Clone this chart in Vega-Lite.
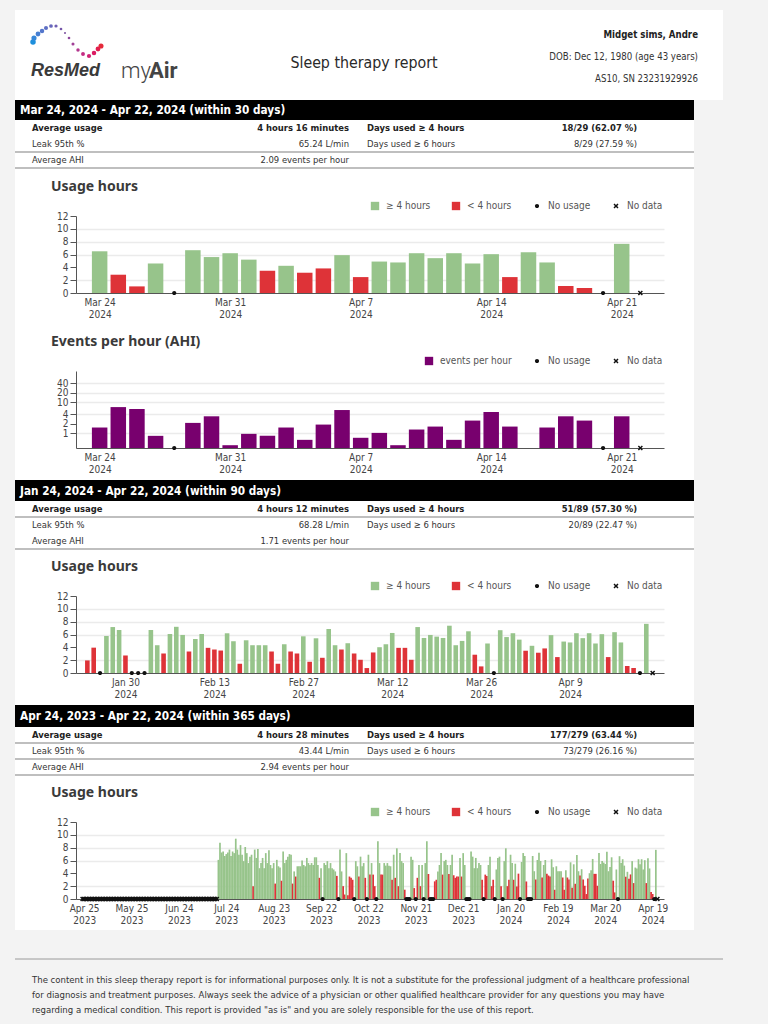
{
  "$schema": "https://vega.github.io/schema/vega-lite/v6.json",
  "background": "#f3f3f3",
  "padding": {"left": 14, "top": 10, "right": 46, "bottom": 0},
  "spacing": 0,
  "resolve": {"scale": {"color": "independent", "shape": "independent", "size": "independent"}, "legend": {"color": "independent", "shape": "independent", "size": "independent"}},
  "config": {
    "font": "DejaVu Sans Condensed, Liberation Sans Narrow, Noto Sans, sans-serif",
    "view": {"stroke": null},
    "axis": {"labelFontSize": 10, "labelColor": "#444", "domainColor": "#555", "tickColor": "#555", "domainWidth": 1},
    "legend": {"orient": "top-right", "direction": "horizontal", "offset": 31, "padding": 0, "labelFontSize": 10, "labelColor": "#555", "symbolSize": 70, "symbolStrokeWidth": 0, "labelOffset": 6, "columnPadding": 20, "symbolOpacity": 1},
    "title": {"anchor": "start", "frame": "group", "offset": -24, "dx": 36, "baseline": "middle", "fontSize": 14, "fontWeight": "bold", "color": "#3a3a3a", "font": "Noto Sans"},
    "text": {"color": "#333"}
  },
  "datasets": {
    "header": [
      {"part": "brand", "slot": 0, "line": 4, "text": "ResMed"},
      {"part": "my", "slot": 1, "line": 4, "text": "my"},
      {"part": "air", "slot": 2, "line": 4, "text": "Air"},
      {"part": "title", "slot": 3, "line": 3, "text": "Sleep therapy report"},
      {"part": "name", "slot": 4, "line": 1, "text": "Midget sims, Andre"},
      {"part": "info", "slot": 4, "line": 2, "text": "DOB: Dec 12, 1980 (age 43 years)"},
      {"part": "info", "slot": 4, "line": 5, "text": "AS10, SN 23231929926"}
    ],
    "logo": [
      {"n": 1, "lx": 0, "ly": 16}, {"n": 2, "lx": 1, "ly": 12}, {"n": 3, "lx": 5, "ly": 8},
      {"n": 4, "lx": 9, "ly": 5}, {"n": 5, "lx": 13, "ly": 2}, {"n": 6, "lx": 18, "ly": 0},
      {"n": 7, "lx": 23, "ly": 0}, {"n": 8, "lx": 28, "ly": 3}, {"n": 9, "lx": 32, "ly": 7},
      {"n": 10, "lx": 36, "ly": 12}, {"n": 11, "lx": 40, "ly": 18}, {"n": 12, "lx": 45, "ly": 24},
      {"n": 13, "lx": 50, "ly": 28}, {"n": 14, "lx": 56, "ly": 30}, {"n": 15, "lx": 61, "ly": 27},
      {"n": 16, "lx": 65, "ly": 23}, {"n": 17, "lx": 68, "ly": 20}
    ],
    "periods": [
      {"period": 30, "text": "Mar 24, 2024 - Apr 22, 2024 (within 30 days)"},
      {"period": 90, "text": "Jan 24, 2024 - Apr 22, 2024 (within 90 days)"},
      {"period": 365, "text": "Apr 24, 2023 - Apr 22, 2024 (within 365 days)"}
    ],
    "tables": [
      {"table": 1, "row": 1, "col": 0, "text": "Average usage"},
      {"table": 1, "row": 1, "col": 1, "text": "4 hours 16 minutes"},
      {"table": 1, "row": 1, "col": 2, "text": "Days used ≥ 4 hours"},
      {"table": 1, "row": 1, "col": 3, "text": "18/29 (62.07 %)"},
      {"table": 1, "row": 2, "col": 0, "text": "Leak 95th %"},
      {"table": 1, "row": 2, "col": 1, "text": "65.24 L/min"},
      {"table": 1, "row": 2, "col": 2, "text": "Days used ≥ 6 hours"},
      {"table": 1, "row": 2, "col": 3, "text": "8/29 (27.59 %)"},
      {"table": 1, "row": 3, "col": 0, "text": "Average AHI"},
      {"table": 1, "row": 3, "col": 1, "text": "2.09 events per hour"},
      {"table": 2, "row": 1, "col": 0, "text": "Average usage"},
      {"table": 2, "row": 1, "col": 1, "text": "4 hours 12 minutes"},
      {"table": 2, "row": 1, "col": 2, "text": "Days used ≥ 4 hours"},
      {"table": 2, "row": 1, "col": 3, "text": "51/89 (57.30 %)"},
      {"table": 2, "row": 2, "col": 0, "text": "Leak 95th %"},
      {"table": 2, "row": 2, "col": 1, "text": "68.28 L/min"},
      {"table": 2, "row": 2, "col": 2, "text": "Days used ≥ 6 hours"},
      {"table": 2, "row": 2, "col": 3, "text": "20/89 (22.47 %)"},
      {"table": 2, "row": 3, "col": 0, "text": "Average AHI"},
      {"table": 2, "row": 3, "col": 1, "text": "1.71 events per hour"},
      {"table": 3, "row": 1, "col": 0, "text": "Average usage"},
      {"table": 3, "row": 1, "col": 1, "text": "4 hours 28 minutes"},
      {"table": 3, "row": 1, "col": 2, "text": "Days used ≥ 4 hours"},
      {"table": 3, "row": 1, "col": 3, "text": "177/279 (63.44 %)"},
      {"table": 3, "row": 2, "col": 0, "text": "Leak 95th %"},
      {"table": 3, "row": 2, "col": 1, "text": "43.44 L/min"},
      {"table": 3, "row": 2, "col": 2, "text": "Days used ≥ 6 hours"},
      {"table": 3, "row": 2, "col": 3, "text": "73/279 (26.16 %)"},
      {"table": 3, "row": 3, "col": 0, "text": "Average AHI"},
      {"table": 3, "row": 3, "col": 1, "text": "2.94 events per hour"}
    ],
    "tableLines": [
      {"table": 1, "between": 2.5}, {"table": 1, "between": 3.5},
      {"table": 2, "between": 1.5}, {"table": 2, "between": 3.5},
      {"table": 3, "between": 1.5}, {"table": 3, "between": 2.5}, {"table": 3, "between": 3.5}
    ],
    "footer": [
      {"line": 1, "text": "The content in this sleep therapy report is for informational purposes only. It is not a substitute for the professional judgment of a healthcare professional"},
      {"line": 2, "text": "for diagnosis and treatment purposes. Always seek the advice of a physician or other qualified healthcare provider for any questions you may have"},
      {"line": 3, "text": "regarding a medical condition. This report is provided \"as is\" and you are solely responsible for the use of this report."}
    ],
    "days": [
      {"date":"2023-04-24","hours":0,"status":"No data"},{"date":"2023-04-25","hours":0,"status":"No data"},{"date":"2023-04-26","hours":0,"status":"No data"},{"date":"2023-04-27","hours":0,"status":"No data"},{"date":"2023-04-28","hours":0,"status":"No data"},{"date":"2023-04-29","hours":0,"status":"No data"},{"date":"2023-04-30","hours":0,"status":"No data"},
      {"date":"2023-05-01","hours":0,"status":"No data"},{"date":"2023-05-02","hours":0,"status":"No data"},{"date":"2023-05-03","hours":0,"status":"No data"},{"date":"2023-05-04","hours":0,"status":"No data"},{"date":"2023-05-05","hours":0,"status":"No data"},{"date":"2023-05-06","hours":0,"status":"No data"},{"date":"2023-05-07","hours":0,"status":"No data"},{"date":"2023-05-08","hours":0,"status":"No data"},{"date":"2023-05-09","hours":0,"status":"No data"},{"date":"2023-05-10","hours":0,"status":"No data"},{"date":"2023-05-11","hours":0,"status":"No data"},{"date":"2023-05-12","hours":0,"status":"No data"},{"date":"2023-05-13","hours":0,"status":"No data"},{"date":"2023-05-14","hours":0,"status":"No data"},{"date":"2023-05-15","hours":0,"status":"No data"},{"date":"2023-05-16","hours":0,"status":"No data"},{"date":"2023-05-17","hours":0,"status":"No data"},{"date":"2023-05-18","hours":0,"status":"No data"},{"date":"2023-05-19","hours":0,"status":"No data"},{"date":"2023-05-20","hours":0,"status":"No data"},{"date":"2023-05-21","hours":0,"status":"No data"},{"date":"2023-05-22","hours":0,"status":"No data"},{"date":"2023-05-23","hours":0,"status":"No data"},{"date":"2023-05-24","hours":0,"status":"No data"},{"date":"2023-05-25","hours":0,"status":"No data"},{"date":"2023-05-26","hours":0,"status":"No data"},{"date":"2023-05-27","hours":0,"status":"No data"},{"date":"2023-05-28","hours":0,"status":"No data"},{"date":"2023-05-29","hours":0,"status":"No data"},{"date":"2023-05-30","hours":0,"status":"No data"},{"date":"2023-05-31","hours":0,"status":"No data"},
      {"date":"2023-06-01","hours":0,"status":"No data"},{"date":"2023-06-02","hours":0,"status":"No data"},{"date":"2023-06-03","hours":0,"status":"No data"},{"date":"2023-06-04","hours":0,"status":"No data"},{"date":"2023-06-05","hours":0,"status":"No data"},{"date":"2023-06-06","hours":0,"status":"No data"},{"date":"2023-06-07","hours":0,"status":"No data"},{"date":"2023-06-08","hours":0,"status":"No data"},{"date":"2023-06-09","hours":0,"status":"No data"},{"date":"2023-06-10","hours":0,"status":"No data"},{"date":"2023-06-11","hours":0,"status":"No data"},{"date":"2023-06-12","hours":0,"status":"No data"},{"date":"2023-06-13","hours":0,"status":"No data"},{"date":"2023-06-14","hours":0,"status":"No data"},{"date":"2023-06-15","hours":0,"status":"No data"},{"date":"2023-06-16","hours":0,"status":"No data"},{"date":"2023-06-17","hours":0,"status":"No data"},{"date":"2023-06-18","hours":0,"status":"No data"},{"date":"2023-06-19","hours":0,"status":"No data"},{"date":"2023-06-20","hours":0,"status":"No data"},{"date":"2023-06-21","hours":0,"status":"No data"},{"date":"2023-06-22","hours":0,"status":"No data"},{"date":"2023-06-23","hours":0,"status":"No data"},{"date":"2023-06-24","hours":0,"status":"No data"},{"date":"2023-06-25","hours":0,"status":"No data"},{"date":"2023-06-26","hours":0,"status":"No data"},{"date":"2023-06-27","hours":0,"status":"No data"},{"date":"2023-06-28","hours":0,"status":"No data"},{"date":"2023-06-29","hours":0,"status":"No data"},{"date":"2023-06-30","hours":0,"status":"No data"},
      {"date":"2023-07-01","hours":0,"status":"No data"},{"date":"2023-07-02","hours":0,"status":"No data"},{"date":"2023-07-03","hours":0,"status":"No data"},{"date":"2023-07-04","hours":0,"status":"No data"},{"date":"2023-07-05","hours":0,"status":"No data"},{"date":"2023-07-06","hours":0,"status":"No data"},{"date":"2023-07-07","hours":0,"status":"No data"},{"date":"2023-07-08","hours":0,"status":"No data"},{"date":"2023-07-09","hours":0,"status":"No data"},{"date":"2023-07-10","hours":0,"status":"No data"},{"date":"2023-07-11","hours":0,"status":"No data"},{"date":"2023-07-12","hours":0,"status":"No data"},{"date":"2023-07-13","hours":0,"status":"No data"},{"date":"2023-07-14","hours":0,"status":"No data"},{"date":"2023-07-15","hours":0,"status":"No data"},{"date":"2023-07-16","hours":0,"status":"No data"},{"date":"2023-07-17","hours":0,"status":"No data"},{"date":"2023-07-18","hours":0,"status":"No data"},
      {"date":"2023-07-19","hours":6.1,"status":"≥ 4 hours"},{"date":"2023-07-20","hours":8.75,"status":"≥ 4 hours"},{"date":"2023-07-21","hours":7.25,"status":"≥ 4 hours"},{"date":"2023-07-22","hours":7.4,"status":"≥ 4 hours"},{"date":"2023-07-23","hours":6.7,"status":"≥ 4 hours"},{"date":"2023-07-24","hours":7.0,"status":"≥ 4 hours"},{"date":"2023-07-25","hours":7.25,"status":"≥ 4 hours"},{"date":"2023-07-26","hours":7.7,"status":"≥ 4 hours"},{"date":"2023-07-27","hours":6.7,"status":"≥ 4 hours"},{"date":"2023-07-28","hours":7.4,"status":"≥ 4 hours"},{"date":"2023-07-29","hours":7.15,"status":"≥ 4 hours"},{"date":"2023-07-30","hours":9.4,"status":"≥ 4 hours"},{"date":"2023-07-31","hours":7.7,"status":"≥ 4 hours"},
      {"date":"2023-08-01","hours":6.9,"status":"≥ 4 hours"},{"date":"2023-08-02","hours":8.4,"status":"≥ 4 hours"},{"date":"2023-08-03","hours":6.9,"status":"≥ 4 hours"},{"date":"2023-08-04","hours":5.9,"status":"≥ 4 hours"},{"date":"2023-08-05","hours":8.1,"status":"≥ 4 hours"},{"date":"2023-08-06","hours":7.15,"status":"≥ 4 hours"},{"date":"2023-08-07","hours":5.6,"status":"≥ 4 hours"},{"date":"2023-08-08","hours":6.6,"status":"≥ 4 hours"},{"date":"2023-08-09","hours":6.9,"status":"≥ 4 hours"},{"date":"2023-08-10","hours":2.0,"status":"< 4 hours"},{"date":"2023-08-11","hours":7.7,"status":"≥ 4 hours"},{"date":"2023-08-12","hours":6.4,"status":"≥ 4 hours"},{"date":"2023-08-13","hours":7.8,"status":"≥ 4 hours"},{"date":"2023-08-14","hours":4.8,"status":"≥ 4 hours"},{"date":"2023-08-15","hours":5.6,"status":"≥ 4 hours"},{"date":"2023-08-16","hours":6.4,"status":"≥ 4 hours"},{"date":"2023-08-17","hours":4.8,"status":"≥ 4 hours"},{"date":"2023-08-18","hours":7.15,"status":"≥ 4 hours"},{"date":"2023-08-19","hours":5.6,"status":"≥ 4 hours"},{"date":"2023-08-20","hours":7.6,"status":"≥ 4 hours"},{"date":"2023-08-21","hours":5.3,"status":"≥ 4 hours"},{"date":"2023-08-22","hours":4.8,"status":"≥ 4 hours"},{"date":"2023-08-23","hours":5.6,"status":"≥ 4 hours"},{"date":"2023-08-24","hours":2.4,"status":"< 4 hours"},{"date":"2023-08-25","hours":6.1,"status":"≥ 4 hours"},{"date":"2023-08-26","hours":5.1,"status":"≥ 4 hours"},{"date":"2023-08-27","hours":4.9,"status":"≥ 4 hours"},{"date":"2023-08-28","hours":2.85,"status":"< 4 hours"},{"date":"2023-08-29","hours":7.4,"status":"≥ 4 hours"},{"date":"2023-08-30","hours":5.6,"status":"≥ 4 hours"},{"date":"2023-08-31","hours":6.1,"status":"≥ 4 hours"},
      {"date":"2023-09-01","hours":6.6,"status":"≥ 4 hours"},{"date":"2023-09-02","hours":7.0,"status":"≥ 4 hours"},{"date":"2023-09-03","hours":6.9,"status":"≥ 4 hours"},{"date":"2023-09-04","hours":2.4,"status":"< 4 hours"},{"date":"2023-09-05","hours":4.3,"status":"≥ 4 hours"},{"date":"2023-09-06","hours":3.5,"status":"< 4 hours"},{"date":"2023-09-07","hours":5.1,"status":"≥ 4 hours"},{"date":"2023-09-08","hours":5.1,"status":"≥ 4 hours"},{"date":"2023-09-09","hours":5.1,"status":"≥ 4 hours"},{"date":"2023-09-10","hours":6.0,"status":"≥ 4 hours"},{"date":"2023-09-11","hours":5.3,"status":"≥ 4 hours"},{"date":"2023-09-12","hours":5.1,"status":"≥ 4 hours"},{"date":"2023-09-13","hours":6.4,"status":"≥ 4 hours"},{"date":"2023-09-14","hours":5.6,"status":"≥ 4 hours"},{"date":"2023-09-15","hours":5.3,"status":"≥ 4 hours"},{"date":"2023-09-16","hours":5.6,"status":"≥ 4 hours"},{"date":"2023-09-17","hours":5.3,"status":"≥ 4 hours"},{"date":"2023-09-18","hours":6.5,"status":"≥ 4 hours"},{"date":"2023-09-19","hours":6.5,"status":"≥ 4 hours"},{"date":"2023-09-20","hours":5.3,"status":"≥ 4 hours"},{"date":"2023-09-21","hours":3.3,"status":"< 4 hours"},{"date":"2023-09-22","hours":4.8,"status":"≥ 4 hours"},{"date":"2023-09-23","hours":0,"status":"No usage"},{"date":"2023-09-24","hours":5.6,"status":"≥ 4 hours"},{"date":"2023-09-25","hours":5.3,"status":"≥ 4 hours"},{"date":"2023-09-26","hours":5.9,"status":"≥ 4 hours"},{"date":"2023-09-27","hours":4.8,"status":"≥ 4 hours"},{"date":"2023-09-28","hours":5.6,"status":"≥ 4 hours"},{"date":"2023-09-29","hours":4.8,"status":"≥ 4 hours"},{"date":"2023-09-30","hours":4.6,"status":"≥ 4 hours"},
      {"date":"2023-10-01","hours":4.3,"status":"≥ 4 hours"},{"date":"2023-10-02","hours":3.6,"status":"< 4 hours"},{"date":"2023-10-03","hours":0,"status":"No usage"},{"date":"2023-10-04","hours":7.7,"status":"≥ 4 hours"},{"date":"2023-10-05","hours":4.3,"status":"≥ 4 hours"},{"date":"2023-10-06","hours":2.0,"status":"< 4 hours"},{"date":"2023-10-07","hours":0.7,"status":"< 4 hours"},{"date":"2023-10-08","hours":7.15,"status":"≥ 4 hours"},{"date":"2023-10-09","hours":0.6,"status":"< 4 hours"},{"date":"2023-10-10","hours":3.5,"status":"< 4 hours"},{"date":"2023-10-11","hours":3.3,"status":"< 4 hours"},{"date":"2023-10-12","hours":3.0,"status":"< 4 hours"},{"date":"2023-10-13","hours":0,"status":"No usage"},{"date":"2023-10-14","hours":5.9,"status":"≥ 4 hours"},{"date":"2023-10-15","hours":5.1,"status":"≥ 4 hours"},{"date":"2023-10-16","hours":3.5,"status":"< 4 hours"},{"date":"2023-10-17","hours":6.6,"status":"≥ 4 hours"},{"date":"2023-10-18","hours":5.1,"status":"≥ 4 hours"},{"date":"2023-10-19","hours":5.6,"status":"≥ 4 hours"},{"date":"2023-10-20","hours":3.3,"status":"< 4 hours"},{"date":"2023-10-21","hours":0,"status":"No usage"},{"date":"2023-10-22","hours":6.9,"status":"≥ 4 hours"},{"date":"2023-10-23","hours":3.8,"status":"< 4 hours"},{"date":"2023-10-24","hours":5.6,"status":"≥ 4 hours"},{"date":"2023-10-25","hours":3.8,"status":"< 4 hours"},{"date":"2023-10-26","hours":2.0,"status":"< 4 hours"},{"date":"2023-10-27","hours":0,"status":"No usage"},{"date":"2023-10-28","hours":9.0,"status":"≥ 4 hours"},{"date":"2023-10-29","hours":5.6,"status":"≥ 4 hours"},{"date":"2023-10-30","hours":3.8,"status":"< 4 hours"},{"date":"2023-10-31","hours":3.8,"status":"< 4 hours"},
      {"date":"2023-11-01","hours":5.6,"status":"≥ 4 hours"},{"date":"2023-11-02","hours":5.2,"status":"≥ 4 hours"},{"date":"2023-11-03","hours":5.6,"status":"≥ 4 hours"},{"date":"2023-11-04","hours":5.2,"status":"≥ 4 hours"},{"date":"2023-11-05","hours":5.1,"status":"≥ 4 hours"},{"date":"2023-11-06","hours":3.0,"status":"< 4 hours"},{"date":"2023-11-07","hours":6.9,"status":"≥ 4 hours"},{"date":"2023-11-08","hours":3.3,"status":"< 4 hours"},{"date":"2023-11-09","hours":7.9,"status":"≥ 4 hours"},{"date":"2023-11-10","hours":2.0,"status":"< 4 hours"},{"date":"2023-11-11","hours":7.15,"status":"≥ 4 hours"},{"date":"2023-11-12","hours":5.9,"status":"≥ 4 hours"},{"date":"2023-11-13","hours":5.6,"status":"≥ 4 hours"},{"date":"2023-11-14","hours":1.45,"status":"< 4 hours"},{"date":"2023-11-15","hours":0,"status":"No usage"},{"date":"2023-11-16","hours":0,"status":"No usage"},{"date":"2023-11-17","hours":0,"status":"No usage"},{"date":"2023-11-18","hours":6.6,"status":"≥ 4 hours"},{"date":"2023-11-19","hours":6.1,"status":"≥ 4 hours"},{"date":"2023-11-20","hours":1.7,"status":"< 4 hours"},{"date":"2023-11-21","hours":0,"status":"No usage"},{"date":"2023-11-22","hours":3.3,"status":"< 4 hours"},{"date":"2023-11-23","hours":5.3,"status":"≥ 4 hours"},{"date":"2023-11-24","hours":2.0,"status":"< 4 hours"},{"date":"2023-11-25","hours":5.3,"status":"≥ 4 hours"},{"date":"2023-11-26","hours":0,"status":"No usage"},{"date":"2023-11-27","hours":5.6,"status":"≥ 4 hours"},{"date":"2023-11-28","hours":9.0,"status":"≥ 4 hours"},{"date":"2023-11-29","hours":3.9,"status":"< 4 hours"},{"date":"2023-11-30","hours":0,"status":"No usage"},
      {"date":"2023-12-01","hours":0,"status":"No usage"},{"date":"2023-12-02","hours":0,"status":"No usage"},{"date":"2023-12-03","hours":2.75,"status":"< 4 hours"},{"date":"2023-12-04","hours":3.0,"status":"< 4 hours"},{"date":"2023-12-05","hours":4.3,"status":"≥ 4 hours"},{"date":"2023-12-06","hours":5.3,"status":"≥ 4 hours"},{"date":"2023-12-07","hours":7.15,"status":"≥ 4 hours"},{"date":"2023-12-08","hours":3.8,"status":"< 4 hours"},{"date":"2023-12-09","hours":5.9,"status":"≥ 4 hours"},{"date":"2023-12-10","hours":6.1,"status":"≥ 4 hours"},{"date":"2023-12-11","hours":5.3,"status":"≥ 4 hours"},{"date":"2023-12-12","hours":3.9,"status":"< 4 hours"},{"date":"2023-12-13","hours":5.3,"status":"≥ 4 hours"},{"date":"2023-12-14","hours":6.9,"status":"≥ 4 hours"},{"date":"2023-12-15","hours":3.7,"status":"< 4 hours"},{"date":"2023-12-16","hours":3.3,"status":"< 4 hours"},{"date":"2023-12-17","hours":3.5,"status":"< 4 hours"},{"date":"2023-12-18","hours":3.5,"status":"< 4 hours"},{"date":"2023-12-19","hours":6.4,"status":"≥ 4 hours"},{"date":"2023-12-20","hours":3.5,"status":"< 4 hours"},{"date":"2023-12-21","hours":7.15,"status":"≥ 4 hours"},{"date":"2023-12-22","hours":5.3,"status":"≥ 4 hours"},{"date":"2023-12-23","hours":0,"status":"No usage"},{"date":"2023-12-24","hours":0,"status":"No usage"},{"date":"2023-12-25","hours":0,"status":"No usage"},{"date":"2023-12-26","hours":7.4,"status":"≥ 4 hours"},{"date":"2023-12-27","hours":6.6,"status":"≥ 4 hours"},{"date":"2023-12-28","hours":4.8,"status":"≥ 4 hours"},{"date":"2023-12-29","hours":6.4,"status":"≥ 4 hours"},{"date":"2023-12-30","hours":4.8,"status":"≥ 4 hours"},{"date":"2023-12-31","hours":5.6,"status":"≥ 4 hours"},
      {"date":"2024-01-01","hours":5.3,"status":"≥ 4 hours"},{"date":"2024-01-02","hours":3.0,"status":"< 4 hours"},{"date":"2024-01-03","hours":0,"status":"No usage"},{"date":"2024-01-04","hours":3.8,"status":"< 4 hours"},{"date":"2024-01-05","hours":3.6,"status":"< 4 hours"},{"date":"2024-01-06","hours":5.3,"status":"≥ 4 hours"},{"date":"2024-01-07","hours":6.6,"status":"≥ 4 hours"},{"date":"2024-01-08","hours":2.0,"status":"< 4 hours"},{"date":"2024-01-09","hours":3.0,"status":"< 4 hours"},{"date":"2024-01-10","hours":0,"status":"No usage"},{"date":"2024-01-11","hours":4.6,"status":"≥ 4 hours"},{"date":"2024-01-12","hours":6.4,"status":"≥ 4 hours"},{"date":"2024-01-13","hours":6.6,"status":"≥ 4 hours"},{"date":"2024-01-14","hours":2.0,"status":"< 4 hours"},{"date":"2024-01-15","hours":0,"status":"No usage"},{"date":"2024-01-16","hours":5.9,"status":"≥ 4 hours"},{"date":"2024-01-17","hours":7.9,"status":"≥ 4 hours"},{"date":"2024-01-18","hours":2.0,"status":"< 4 hours"},{"date":"2024-01-19","hours":3.0,"status":"< 4 hours"},{"date":"2024-01-20","hours":6.9,"status":"≥ 4 hours"},{"date":"2024-01-21","hours":5.6,"status":"≥ 4 hours"},{"date":"2024-01-22","hours":3.0,"status":"< 4 hours"},{"date":"2024-01-23","hours":5.5,"status":"≥ 4 hours"},
      {"date":"2024-01-24","hours":1.96,"status":"< 4 hours"},{"date":"2024-01-25","hours":3.95,"status":"< 4 hours"},{"date":"2024-01-26","hours":0,"status":"No usage"},{"date":"2024-01-27","hours":5.77,"status":"≥ 4 hours"},{"date":"2024-01-28","hours":7.16,"status":"≥ 4 hours"},{"date":"2024-01-29","hours":6.7,"status":"≥ 4 hours"},{"date":"2024-01-30","hours":2.73,"status":"< 4 hours"},{"date":"2024-01-31","hours":0,"status":"No usage"},
      {"date":"2024-02-01","hours":0,"status":"No usage"},{"date":"2024-02-02","hours":0,"status":"No usage"},{"date":"2024-02-03","hours":6.7,"status":"≥ 4 hours"},{"date":"2024-02-04","hours":4.33,"status":"≥ 4 hours"},{"date":"2024-02-05","hours":3.04,"status":"< 4 hours"},{"date":"2024-02-06","hours":6.08,"status":"≥ 4 hours"},{"date":"2024-02-07","hours":7.2,"status":"≥ 4 hours"},{"date":"2024-02-08","hours":5.93,"status":"≥ 4 hours"},{"date":"2024-02-09","hours":3.35,"status":"< 4 hours"},{"date":"2024-02-10","hours":5.3,"status":"≥ 4 hours"},{"date":"2024-02-11","hours":6.08,"status":"≥ 4 hours"},{"date":"2024-02-12","hours":3.92,"status":"< 4 hours"},{"date":"2024-02-13","hours":3.66,"status":"< 4 hours"},{"date":"2024-02-14","hours":3.5,"status":"< 4 hours"},{"date":"2024-02-15","hours":6.19,"status":"≥ 4 hours"},{"date":"2024-02-16","hours":4.95,"status":"≥ 4 hours"},{"date":"2024-02-17","hours":1.44,"status":"< 4 hours"},{"date":"2024-02-18","hours":5.1,"status":"≥ 4 hours"},{"date":"2024-02-19","hours":4.33,"status":"≥ 4 hours"},{"date":"2024-02-20","hours":4.33,"status":"≥ 4 hours"},{"date":"2024-02-21","hours":4.33,"status":"≥ 4 hours"},{"date":"2024-02-22","hours":3.35,"status":"< 4 hours"},{"date":"2024-02-23","hours":1.44,"status":"< 4 hours"},{"date":"2024-02-24","hours":4.48,"status":"≥ 4 hours"},{"date":"2024-02-25","hours":3.35,"status":"< 4 hours"},{"date":"2024-02-26","hours":3.04,"status":"< 4 hours"},{"date":"2024-02-27","hours":5.72,"status":"≥ 4 hours"},{"date":"2024-02-28","hours":1.75,"status":"< 4 hours"},{"date":"2024-02-29","hours":5.41,"status":"≥ 4 hours"},
      {"date":"2024-03-01","hours":2.37,"status":"< 4 hours"},{"date":"2024-03-02","hours":6.86,"status":"≥ 4 hours"},{"date":"2024-03-03","hours":4.33,"status":"≥ 4 hours"},{"date":"2024-03-04","hours":3.66,"status":"< 4 hours"},{"date":"2024-03-05","hours":4.64,"status":"≥ 4 hours"},{"date":"2024-03-06","hours":3.04,"status":"< 4 hours"},{"date":"2024-03-07","hours":2.06,"status":"< 4 hours"},{"date":"2024-03-08","hours":0.77,"status":"< 4 hours"},{"date":"2024-03-09","hours":3.2,"status":"< 4 hours"},{"date":"2024-03-10","hours":4.02,"status":"≥ 4 hours"},{"date":"2024-03-11","hours":4.48,"status":"≥ 4 hours"},{"date":"2024-03-12","hours":6.24,"status":"≥ 4 hours"},{"date":"2024-03-13","hours":3.92,"status":"< 4 hours"},{"date":"2024-03-14","hours":3.92,"status":"< 4 hours"},{"date":"2024-03-15","hours":2.06,"status":"< 4 hours"},{"date":"2024-03-16","hours":7.16,"status":"≥ 4 hours"},{"date":"2024-03-17","hours":5.46,"status":"≥ 4 hours"},{"date":"2024-03-18","hours":5.93,"status":"≥ 4 hours"},{"date":"2024-03-19","hours":5.67,"status":"≥ 4 hours"},{"date":"2024-03-20","hours":5.46,"status":"≥ 4 hours"},{"date":"2024-03-21","hours":7.37,"status":"≥ 4 hours"},{"date":"2024-03-22","hours":4.33,"status":"≥ 4 hours"},{"date":"2024-03-23","hours":5.0,"status":"≥ 4 hours"},
      {"date":"2024-03-24","hours":6.5,"status":"≥ 4 hours","ahi":1.52},{"date":"2024-03-25","hours":2.85,"status":"< 4 hours","ahi":6.9},{"date":"2024-03-26","hours":1.03,"status":"< 4 hours","ahi":5.98},{"date":"2024-03-27","hours":4.6,"status":"≥ 4 hours","ahi":0.82},{"date":"2024-03-28","hours":0,"status":"No usage"},{"date":"2024-03-29","hours":6.67,"status":"≥ 4 hours","ahi":2.14},{"date":"2024-03-30","hours":5.6,"status":"≥ 4 hours","ahi":3.49},{"date":"2024-03-31","hours":6.2,"status":"≥ 4 hours","ahi":0.41},
      {"date":"2024-04-01","hours":5.2,"status":"≥ 4 hours","ahi":0.95},{"date":"2024-04-02","hours":3.47,"status":"< 4 hours","ahi":0.82},{"date":"2024-04-03","hours":4.24,"status":"≥ 4 hours","ahi":1.52},{"date":"2024-04-04","hours":3.16,"status":"< 4 hours","ahi":0.61},{"date":"2024-04-05","hours":3.83,"status":"< 4 hours","ahi":1.89},{"date":"2024-04-06","hours":5.9,"status":"≥ 4 hours","ahi":5.55},{"date":"2024-04-07","hours":2.48,"status":"< 4 hours","ahi":0.71},{"date":"2024-04-08","hours":4.9,"status":"≥ 4 hours","ahi":1.02},{"date":"2024-04-09","hours":4.76,"status":"≥ 4 hours","ahi":0.41},{"date":"2024-04-10","hours":6.2,"status":"≥ 4 hours","ahi":1.31},{"date":"2024-04-11","hours":5.43,"status":"≥ 4 hours","ahi":1.63},{"date":"2024-04-12","hours":6.2,"status":"≥ 4 hours","ahi":0.61},{"date":"2024-04-13","hours":4.6,"status":"≥ 4 hours","ahi":2.54},{"date":"2024-04-14","hours":6.05,"status":"≥ 4 hours","ahi":4.8},{"date":"2024-04-15","hours":2.48,"status":"< 4 hours","ahi":1.63},{"date":"2024-04-16","hours":6.36,"status":"≥ 4 hours","ahi":0},{"date":"2024-04-17","hours":4.76,"status":"≥ 4 hours","ahi":1.52},{"date":"2024-04-18","hours":1.09,"status":"< 4 hours","ahi":3.49},{"date":"2024-04-19","hours":0.78,"status":"< 4 hours","ahi":2.54},{"date":"2024-04-20","hours":0,"status":"No usage"},{"date":"2024-04-21","hours":7.66,"status":"≥ 4 hours","ahi":3.49},{"date":"2024-04-22","hours":0,"status":"No data"}
    ]
  },
  "vconcat": [
    {
      "width": 708, "height": 90,
      "view": {"fill": "white", "stroke": null},
      "resolve": {"scale": {"x": "independent", "y": "independent", "color": "independent", "size": "independent"}},
      "layer": [
        {
          "data": {"name": "logo"},
          "mark": {"type": "circle", "opacity": 1},
          "encoding": {
            "x": {"field": "lx", "type": "quantitative", "scale": {"domain": [0, 68], "range": [18, 86], "nice": false, "zero": false}, "axis": null},
            "y": {"field": "ly", "type": "quantitative", "scale": {"domain": [0, 30], "range": [16, 46], "nice": false, "zero": false}, "axis": null},
            "color": {"field": "n", "type": "quantitative", "scale": {"domain": [1, 9, 17], "range": ["#1d8fdc", "#7a4e9e", "#e52a3a"]}, "legend": null},
            "size": {"field": "n", "type": "quantitative", "scale": {"domain": [1, 9, 17], "range": [30, 4, 26]}, "legend": null}
          }
        },
        {
          "data": {"name": "header"},
          "transform": [{"filter": "datum.part == 'brand'"}],
          "mark": {"type": "text", "align": "left", "baseline": "middle", "font": "Liberation Sans", "fontSize": 18, "fontWeight": "bold", "fontStyle": "italic", "color": "#3a3a3a"},
          "encoding": {
            "x": {"field": "slot", "type": "quantitative", "scale": {"domain": [0, 1, 2, 3, 4], "range": [16, 106, 134, 349, 683], "nice": false, "zero": false}, "axis": null},
            "y": {"field": "line", "type": "quantitative", "scale": {"domain": [1, 2, 3, 4, 5], "range": [25, 47, 53, 61, 69], "nice": false, "zero": false}, "axis": null},
            "text": {"field": "text"}
          }
        },
        {
          "data": {"name": "header"},
          "transform": [{"filter": "datum.part == 'my'"}],
          "mark": {"type": "text", "align": "left", "baseline": "middle", "font": "Roboto", "fontSize": 22, "fontWeight": 300, "color": "#444"},
          "encoding": {
            "x": {"field": "slot", "type": "quantitative", "scale": {"domain": [0, 1, 2, 3, 4], "range": [16, 106, 134, 349, 683], "nice": false, "zero": false}, "axis": null},
            "y": {"field": "line", "type": "quantitative", "scale": {"domain": [1, 2, 3, 4, 5], "range": [25, 47, 53, 61, 69], "nice": false, "zero": false}, "axis": null},
            "text": {"field": "text"}
          }
        },
        {
          "data": {"name": "header"},
          "transform": [{"filter": "datum.part == 'air'"}],
          "mark": {"type": "text", "align": "left", "baseline": "middle", "font": "Roboto", "fontSize": 22, "fontWeight": "bold", "color": "#444"},
          "encoding": {
            "x": {"field": "slot", "type": "quantitative", "scale": {"domain": [0, 1, 2, 3, 4], "range": [16, 106, 134, 349, 683], "nice": false, "zero": false}, "axis": null},
            "y": {"field": "line", "type": "quantitative", "scale": {"domain": [1, 2, 3, 4, 5], "range": [25, 47, 53, 61, 69], "nice": false, "zero": false}, "axis": null},
            "text": {"field": "text"}
          }
        },
        {
          "data": {"name": "header"},
          "transform": [{"filter": "datum.part == 'title'"}],
          "mark": {"type": "text", "align": "center", "baseline": "middle", "fontSize": 15.8, "color": "#2a2a2a"},
          "encoding": {
            "x": {"field": "slot", "type": "quantitative", "scale": {"domain": [0, 1, 2, 3, 4], "range": [16, 106, 134, 349, 683], "nice": false, "zero": false}, "axis": null},
            "y": {"field": "line", "type": "quantitative", "scale": {"domain": [1, 2, 3, 4, 5], "range": [25, 47, 53, 61, 69], "nice": false, "zero": false}, "axis": null},
            "text": {"field": "text"}
          }
        },
        {
          "data": {"name": "header"},
          "transform": [{"filter": "datum.part == 'name'"}],
          "mark": {"type": "text", "align": "right", "baseline": "middle", "fontSize": 9.6, "fontWeight": "bold", "color": "#222"},
          "encoding": {
            "x": {"field": "slot", "type": "quantitative", "scale": {"domain": [0, 1, 2, 3, 4], "range": [16, 106, 134, 349, 683], "nice": false, "zero": false}, "axis": null},
            "y": {"field": "line", "type": "quantitative", "scale": {"domain": [1, 2, 3, 4, 5], "range": [25, 47, 53, 61, 69], "nice": false, "zero": false}, "axis": null},
            "text": {"field": "text"}
          }
        },
        {
          "data": {"name": "header"},
          "transform": [{"filter": "datum.part == 'info'"}],
          "mark": {"type": "text", "align": "right", "baseline": "middle", "fontSize": 9.6, "color": "#333"},
          "encoding": {
            "x": {"field": "slot", "type": "quantitative", "scale": {"domain": [0, 1, 2, 3, 4], "range": [16, 106, 134, 349, 683], "nice": false, "zero": false}, "axis": null},
            "y": {"field": "line", "type": "quantitative", "scale": {"domain": [1, 2, 3, 4, 5], "range": [25, 47, 53, 61, 69], "nice": false, "zero": false}, "axis": null},
            "text": {"field": "text"}
          }
        }
      ]
    },
    {
      "width": 679, "height": 20,
      "view": {"fill": "black", "stroke": null},
      "data": {"name": "periods"},
      "transform": [{"filter": "datum.period == 30"}],
      "mark": {"type": "text", "align": "left", "baseline": "middle", "color": "white", "fontWeight": "bold", "fontSize": 11.7},
      "encoding": {
        "x": {"datum": 0, "type": "quantitative", "scale": {"domain": [0, 1], "range": [5, 679]}, "axis": null},
        "text": {"field": "text"}
      }
    },
    {
      "width": 679, "height": 50,
      "view": {"fill": "white", "stroke": null},
      "layer": [
        {
          "data": {"name": "tableLines"},
          "transform": [{"filter": "datum.table == 1"}],
          "mark": {"type": "rule", "color": "#aaa", "strokeWidth": 1.5},
          "encoding": {"y": {"field": "between", "type": "quantitative", "scale": {"domain": [1, 3], "range": [8, 40], "nice": false, "zero": false}, "axis": null}}
        },
        {
          "data": {"name": "tables"},
          "transform": [{"filter": "datum.table == 1 && datum.row == 1 && (datum.col == 0 || datum.col == 2)"}],
          "mark": {"type": "text", "align": "left", "baseline": "middle", "fontSize": 9.4, "fontWeight": "bold", "color": "#222"},
          "encoding": {
            "x": {"field": "col", "type": "quantitative", "scale": {"domain": [0, 1, 2, 3], "range": [17, 334, 352, 622], "nice": false, "zero": false}, "axis": null},
            "y": {"field": "row", "type": "quantitative", "scale": {"domain": [1, 3], "range": [8, 40], "nice": false, "zero": false}, "axis": null},
            "text": {"field": "text"}
          }
        },
        {
          "data": {"name": "tables"},
          "transform": [{"filter": "datum.table == 1 && datum.row == 1 && (datum.col == 1 || datum.col == 3)"}],
          "mark": {"type": "text", "align": "right", "baseline": "middle", "fontSize": 9.4, "fontWeight": "bold", "color": "#222"},
          "encoding": {
            "x": {"field": "col", "type": "quantitative", "scale": {"domain": [0, 1, 2, 3], "range": [17, 334, 352, 622], "nice": false, "zero": false}, "axis": null},
            "y": {"field": "row", "type": "quantitative", "scale": {"domain": [1, 3], "range": [8, 40], "nice": false, "zero": false}, "axis": null},
            "text": {"field": "text"}
          }
        },
        {
          "data": {"name": "tables"},
          "transform": [{"filter": "datum.table == 1 && datum.row > 1 && (datum.col == 0 || datum.col == 2)"}],
          "mark": {"type": "text", "align": "left", "baseline": "middle", "fontSize": 9.4, "color": "#333"},
          "encoding": {
            "x": {"field": "col", "type": "quantitative", "scale": {"domain": [0, 1, 2, 3], "range": [17, 334, 352, 622], "nice": false, "zero": false}, "axis": null},
            "y": {"field": "row", "type": "quantitative", "scale": {"domain": [1, 3], "range": [8, 40], "nice": false, "zero": false}, "axis": null},
            "text": {"field": "text"}
          }
        },
        {
          "data": {"name": "tables"},
          "transform": [{"filter": "datum.table == 1 && datum.row > 1 && (datum.col == 1 || datum.col == 3)"}],
          "mark": {"type": "text", "align": "right", "baseline": "middle", "fontSize": 9.4, "color": "#333"},
          "encoding": {
            "x": {"field": "col", "type": "quantitative", "scale": {"domain": [0, 1, 2, 3], "range": [17, 334, 352, 622], "nice": false, "zero": false}, "axis": null},
            "y": {"field": "row", "type": "quantitative", "scale": {"domain": [1, 3], "range": [8, 40], "nice": false, "zero": false}, "axis": null},
            "text": {"field": "text"}
          }
        }
      ]
    },
    {
      "width": 679, "height": 155,
      "view": {"fill": "white", "stroke": null},
      "title": {"text": "Usage hours"},
      "data": {"name": "days"},
      "transform": [{"filter": "time(datum.date) >= utc(2024, 2, 24)"}],
      "encoding": {
        "x": {"field": "date", "type": "temporal", "title": null,
          "scale": {"type": "utc", "domain": [{"year": 2024, "month": 3, "date": 23, "utc": true}, {"year": 2024, "month": 4, "date": 23, "utc": true}], "range": [61, 649], "nice": false},
          "axis": {"values": [{"year": 2024, "month": 3, "date": 24, "utc": true}, {"year": 2024, "month": 3, "date": 31, "utc": true}, {"year": 2024, "month": 4, "date": 7, "utc": true}, {"year": 2024, "month": 4, "date": 14, "utc": true}, {"year": 2024, "month": 4, "date": 21, "utc": true}],
            "labelExpr": "[utcFormat(datum.value, '%b %-d'), utcFormat(datum.value, '%Y')]", "offset": -32, "ticks": false, "grid": false, "labelPadding": 4, "labelLineHeight": 12, "labelFlush": false, "labelOverlap": false}}
      },
      "layer": [
        {
          "transform": [{"filter": "datum.hours > 0"}],
          "mark": {"type": "bar", "width": 15.5},
          "encoding": {
            "y": {"field": "hours", "type": "quantitative", "title": null,
              "scale": {"domain": [0, 12], "range": [123, 46], "nice": false},
              "axis": {"values": [0, 2, 4, 6, 8, 10, 12], "offset": -61, "tickSize": 6, "labelPadding": 2, "labelOverlap": false, "grid": true, "gridColor": "#ebebeb", "gridWidth": 1.5, "gridOpacity": {"condition": {"test": "datum.value == 0 || datum.value == 4 || datum.value == 12", "value": 0}, "value": 1}}},
            "color": {"field": "status", "type": "nominal", "title": null, "scale": {"domain": ["≥ 4 hours", "< 4 hours", "No usage", "No data"], "range": ["#97c48b", "#de3338", "#111111", "#111111"]}}
          }
        },
        {
          "data": {"values": [{}]},
          "mark": {"type": "rule", "color": "#777", "strokeDash": [3, 2], "strokeWidth": 1},
          "encoding": {
            "x": {"datum": {"year": 2024, "month": 3, "date": 23, "utc": true}, "type": "temporal"},
            "x2": {"datum": {"year": 2024, "month": 4, "date": 23, "utc": true}},
            "y": {"datum": 4, "type": "quantitative", "axis": {"values": [0, 2, 4, 6, 8, 10, 12], "offset": -61, "tickSize": 6, "labelPadding": 2, "labelOverlap": false, "grid": true, "gridColor": "#ebebeb", "gridWidth": 1.5, "gridOpacity": {"condition": {"test": "datum.value == 0 || datum.value == 4 || datum.value == 12", "value": 0}, "value": 1}}}
          }
        },
        {
          "transform": [{"filter": "datum.status == 'No usage' || datum.status == 'No data'"}],
          "mark": {"type": "point", "filled": true, "size": 70, "opacity": 1},
          "encoding": {
            "y": {"datum": 0, "type": "quantitative", "axis": {"values": [0, 2, 4, 6, 8, 10, 12], "offset": -61, "tickSize": 6, "labelPadding": 2, "labelOverlap": false, "grid": true, "gridColor": "#ebebeb", "gridWidth": 1.5, "gridOpacity": {"condition": {"test": "datum.value == 0 || datum.value == 4 || datum.value == 12", "value": 0}, "value": 1}}},
            "color": {"field": "status", "type": "nominal", "title": null, "scale": {"domain": ["≥ 4 hours", "< 4 hours", "No usage", "No data"], "range": ["#97c48b", "#de3338", "#111111", "#111111"]}},
            "shape": {"field": "status", "type": "nominal", "title": null, "scale": {"domain": ["≥ 4 hours", "< 4 hours", "No usage", "No data"], "range": ["square", "square", "M -0.5 0 A 0.5 0.5 0 1 0 0.5 0 A 0.5 0.5 0 1 0 -0.5 0 Z", "M -0.6 -0.35 L -0.35 -0.6 L 0 -0.25 L 0.35 -0.6 L 0.6 -0.35 L 0.25 0 L 0.6 0.35 L 0.35 0.6 L 0 0.25 L -0.35 0.6 L -0.6 0.35 L -0.25 0 Z"]}}
          }
        }
      ]
    },
    {
      "width": 679, "height": 155,
      "view": {"fill": "white", "stroke": null},
      "title": {"text": "Events per hour (AHI)"},
      "data": {"name": "days"},
      "transform": [{"filter": "time(datum.date) >= utc(2024, 2, 24)"}],
      "encoding": {
        "x": {"field": "date", "type": "temporal", "title": null,
          "scale": {"type": "utc", "domain": [{"year": 2024, "month": 3, "date": 23, "utc": true}, {"year": 2024, "month": 4, "date": 23, "utc": true}], "range": [61, 649], "nice": false},
          "axis": {"values": [{"year": 2024, "month": 3, "date": 24, "utc": true}, {"year": 2024, "month": 3, "date": 31, "utc": true}, {"year": 2024, "month": 4, "date": 7, "utc": true}, {"year": 2024, "month": 4, "date": 14, "utc": true}, {"year": 2024, "month": 4, "date": 21, "utc": true}],
            "labelExpr": "[utcFormat(datum.value, '%b %-d'), utcFormat(datum.value, '%Y')]", "offset": -32, "ticks": false, "grid": false, "labelPadding": 4, "labelLineHeight": 12, "labelFlush": false, "labelOverlap": false}}
      },
      "layer": [
        {
          "transform": [{"filter": "datum.ahi > 0"}],
          "mark": {"type": "bar", "width": 15.5},
          "encoding": {
            "y": {"field": "ahi", "type": "quantitative", "title": null,
              "scale": {"type": "log", "domain": [0.3333, 100], "range": [123, 46], "nice": false},
              "axis": {"values": [1, 2, 4, 10, 20, 40], "offset": -61, "tickSize": 6, "labelPadding": 2, "labelOverlap": false, "grid": true, "gridColor": "#ebebeb", "gridWidth": 1.5, "gridOpacity": {"condition": {"test": "datum.value == 2", "value": 0}, "value": 1}}},
            "y2": {"datum": 0.3333},
            "color": {"datum": "events per hour", "type": "nominal", "title": null, "scale": {"domain": ["events per hour", "No usage", "No data"], "range": ["#78006e", "#111111", "#111111"]}}
          }
        },
        {
          "data": {"values": [{}]},
          "mark": {"type": "rule", "color": "#777", "strokeDash": [3, 2], "strokeWidth": 1},
          "encoding": {
            "x": {"datum": {"year": 2024, "month": 3, "date": 23, "utc": true}, "type": "temporal"},
            "x2": {"datum": {"year": 2024, "month": 4, "date": 23, "utc": true}},
            "y": {"datum": 2, "type": "quantitative", "axis": {"values": [1, 2, 4, 10, 20, 40], "offset": -61, "tickSize": 6, "labelPadding": 2, "labelOverlap": false, "grid": true, "gridColor": "#ebebeb", "gridWidth": 1.5, "gridOpacity": {"condition": {"test": "datum.value == 2", "value": 0}, "value": 1}}}
          }
        },
        {
          "transform": [{"filter": "datum.status == 'No usage' || datum.status == 'No data'"}],
          "mark": {"type": "point", "filled": true, "size": 70, "opacity": 1},
          "encoding": {
            "y": {"datum": 0.3333, "type": "quantitative", "axis": {"values": [1, 2, 4, 10, 20, 40], "offset": -61, "tickSize": 6, "labelPadding": 2, "labelOverlap": false, "grid": true, "gridColor": "#ebebeb", "gridWidth": 1.5, "gridOpacity": {"condition": {"test": "datum.value == 2", "value": 0}, "value": 1}}},
            "color": {"field": "status", "type": "nominal", "title": null, "scale": {"domain": ["events per hour", "No usage", "No data"], "range": ["#78006e", "#111111", "#111111"]}},
            "shape": {"field": "status", "type": "nominal", "title": null, "scale": {"domain": ["events per hour", "No usage", "No data"], "range": ["square", "M -0.5 0 A 0.5 0.5 0 1 0 0.5 0 A 0.5 0.5 0 1 0 -0.5 0 Z", "M -0.6 -0.35 L -0.35 -0.6 L 0 -0.25 L 0.35 -0.6 L 0.6 -0.35 L 0.25 0 L 0.6 0.35 L 0.35 0.6 L 0 0.25 L -0.35 0.6 L -0.6 0.35 L -0.25 0 Z"]}}
          }
        }
      ]
    },
    {
      "width": 679, "height": 21,
      "view": {"fill": "black", "stroke": null},
      "data": {"name": "periods"},
      "transform": [{"filter": "datum.period == 90"}],
      "mark": {"type": "text", "align": "left", "baseline": "middle", "color": "white", "fontWeight": "bold", "fontSize": 11.7},
      "encoding": {
        "x": {"datum": 0, "type": "quantitative", "scale": {"domain": [0, 1], "range": [5, 679]}, "axis": null},
        "text": {"field": "text"}
      }
    },
    {
      "width": 679, "height": 49,
      "view": {"fill": "white", "stroke": null},
      "layer": [
        {
          "data": {"name": "tableLines"},
          "transform": [{"filter": "datum.table == 2"}],
          "mark": {"type": "rule", "color": "#aaa", "strokeWidth": 1.5},
          "encoding": {"y": {"field": "between", "type": "quantitative", "scale": {"domain": [1, 3], "range": [8, 40], "nice": false, "zero": false}, "axis": null}}
        },
        {
          "data": {"name": "tables"},
          "transform": [{"filter": "datum.table == 2 && datum.row == 1 && (datum.col == 0 || datum.col == 2)"}],
          "mark": {"type": "text", "align": "left", "baseline": "middle", "fontSize": 9.4, "fontWeight": "bold", "color": "#222"},
          "encoding": {
            "x": {"field": "col", "type": "quantitative", "scale": {"domain": [0, 1, 2, 3], "range": [17, 334, 352, 622], "nice": false, "zero": false}, "axis": null},
            "y": {"field": "row", "type": "quantitative", "scale": {"domain": [1, 3], "range": [8, 40], "nice": false, "zero": false}, "axis": null},
            "text": {"field": "text"}
          }
        },
        {
          "data": {"name": "tables"},
          "transform": [{"filter": "datum.table == 2 && datum.row == 1 && (datum.col == 1 || datum.col == 3)"}],
          "mark": {"type": "text", "align": "right", "baseline": "middle", "fontSize": 9.4, "fontWeight": "bold", "color": "#222"},
          "encoding": {
            "x": {"field": "col", "type": "quantitative", "scale": {"domain": [0, 1, 2, 3], "range": [17, 334, 352, 622], "nice": false, "zero": false}, "axis": null},
            "y": {"field": "row", "type": "quantitative", "scale": {"domain": [1, 3], "range": [8, 40], "nice": false, "zero": false}, "axis": null},
            "text": {"field": "text"}
          }
        },
        {
          "data": {"name": "tables"},
          "transform": [{"filter": "datum.table == 2 && datum.row > 1 && (datum.col == 0 || datum.col == 2)"}],
          "mark": {"type": "text", "align": "left", "baseline": "middle", "fontSize": 9.4, "color": "#333"},
          "encoding": {
            "x": {"field": "col", "type": "quantitative", "scale": {"domain": [0, 1, 2, 3], "range": [17, 334, 352, 622], "nice": false, "zero": false}, "axis": null},
            "y": {"field": "row", "type": "quantitative", "scale": {"domain": [1, 3], "range": [8, 40], "nice": false, "zero": false}, "axis": null},
            "text": {"field": "text"}
          }
        },
        {
          "data": {"name": "tables"},
          "transform": [{"filter": "datum.table == 2 && datum.row > 1 && (datum.col == 1 || datum.col == 3)"}],
          "mark": {"type": "text", "align": "right", "baseline": "middle", "fontSize": 9.4, "color": "#333"},
          "encoding": {
            "x": {"field": "col", "type": "quantitative", "scale": {"domain": [0, 1, 2, 3], "range": [17, 334, 352, 622], "nice": false, "zero": false}, "axis": null},
            "y": {"field": "row", "type": "quantitative", "scale": {"domain": [1, 3], "range": [8, 40], "nice": false, "zero": false}, "axis": null},
            "text": {"field": "text"}
          }
        }
      ]
    },
    {
      "width": 679, "height": 155,
      "view": {"fill": "white", "stroke": null},
      "title": {"text": "Usage hours"},
      "data": {"name": "days"},
      "transform": [{"filter": "time(datum.date) >= utc(2024, 0, 24)"}],
      "encoding": {
        "x": {"field": "date", "type": "temporal", "title": null,
          "scale": {"type": "utc", "domain": [{"year": 2024, "month": 1, "date": 23, "utc": true}, {"year": 2024, "month": 4, "date": 23, "utc": true}], "range": [61, 649], "nice": false},
          "axis": {"values": [{"year": 2024, "month": 1, "date": 30, "utc": true}, {"year": 2024, "month": 2, "date": 13, "utc": true}, {"year": 2024, "month": 2, "date": 27, "utc": true}, {"year": 2024, "month": 3, "date": 12, "utc": true}, {"year": 2024, "month": 3, "date": 26, "utc": true}, {"year": 2024, "month": 4, "date": 9, "utc": true}],
            "labelExpr": "[utcFormat(datum.value, '%b %-d'), utcFormat(datum.value, '%Y')]", "offset": -32, "ticks": false, "grid": false, "labelPadding": 4, "labelLineHeight": 12, "labelFlush": false, "labelOverlap": false}}
      },
      "layer": [
        {
          "transform": [{"filter": "datum.hours > 0"}],
          "mark": {"type": "bar", "width": 4.6},
          "encoding": {
            "y": {"field": "hours", "type": "quantitative", "title": null,
              "scale": {"domain": [0, 12], "range": [123, 46], "nice": false},
              "axis": {"values": [0, 2, 4, 6, 8, 10, 12], "offset": -61, "tickSize": 6, "labelPadding": 2, "labelOverlap": false, "grid": true, "gridColor": "#ebebeb", "gridWidth": 1.5, "gridOpacity": {"condition": {"test": "datum.value == 0 || datum.value == 4 || datum.value == 12", "value": 0}, "value": 1}}},
            "color": {"field": "status", "type": "nominal", "title": null, "scale": {"domain": ["≥ 4 hours", "< 4 hours", "No usage", "No data"], "range": ["#97c48b", "#de3338", "#111111", "#111111"]}}
          }
        },
        {
          "data": {"values": [{}]},
          "mark": {"type": "rule", "color": "#777", "strokeDash": [3, 2], "strokeWidth": 1},
          "encoding": {
            "x": {"datum": {"year": 2024, "month": 1, "date": 23, "utc": true}, "type": "temporal"},
            "x2": {"datum": {"year": 2024, "month": 4, "date": 23, "utc": true}},
            "y": {"datum": 4, "type": "quantitative", "axis": {"values": [0, 2, 4, 6, 8, 10, 12], "offset": -61, "tickSize": 6, "labelPadding": 2, "labelOverlap": false, "grid": true, "gridColor": "#ebebeb", "gridWidth": 1.5, "gridOpacity": {"condition": {"test": "datum.value == 0 || datum.value == 4 || datum.value == 12", "value": 0}, "value": 1}}}
          }
        },
        {
          "transform": [{"filter": "datum.status == 'No usage' || datum.status == 'No data'"}],
          "mark": {"type": "point", "filled": true, "size": 70, "opacity": 1},
          "encoding": {
            "y": {"datum": 0, "type": "quantitative", "axis": {"values": [0, 2, 4, 6, 8, 10, 12], "offset": -61, "tickSize": 6, "labelPadding": 2, "labelOverlap": false, "grid": true, "gridColor": "#ebebeb", "gridWidth": 1.5, "gridOpacity": {"condition": {"test": "datum.value == 0 || datum.value == 4 || datum.value == 12", "value": 0}, "value": 1}}},
            "color": {"field": "status", "type": "nominal", "title": null, "scale": {"domain": ["≥ 4 hours", "< 4 hours", "No usage", "No data"], "range": ["#97c48b", "#de3338", "#111111", "#111111"]}},
            "shape": {"field": "status", "type": "nominal", "title": null, "scale": {"domain": ["≥ 4 hours", "< 4 hours", "No usage", "No data"], "range": ["square", "square", "M -0.5 0 A 0.5 0.5 0 1 0 0.5 0 A 0.5 0.5 0 1 0 -0.5 0 Z", "M -0.6 -0.35 L -0.35 -0.6 L 0 -0.25 L 0.35 -0.6 L 0.6 -0.35 L 0.25 0 L 0.6 0.35 L 0.35 0.6 L 0 0.25 L -0.35 0.6 L -0.6 0.35 L -0.25 0 Z"]}}
          }
        }
      ]
    },
    {
      "width": 679, "height": 22,
      "view": {"fill": "black", "stroke": null},
      "data": {"name": "periods"},
      "transform": [{"filter": "datum.period == 365"}],
      "mark": {"type": "text", "align": "left", "baseline": "middle", "color": "white", "fontWeight": "bold", "fontSize": 11.7},
      "encoding": {
        "x": {"datum": 0, "type": "quantitative", "scale": {"domain": [0, 1], "range": [5, 679]}, "axis": null},
        "text": {"field": "text"}
      }
    },
    {
      "width": 679, "height": 49,
      "view": {"fill": "white", "stroke": null},
      "layer": [
        {
          "data": {"name": "tableLines"},
          "transform": [{"filter": "datum.table == 3"}],
          "mark": {"type": "rule", "color": "#aaa", "strokeWidth": 1.5},
          "encoding": {"y": {"field": "between", "type": "quantitative", "scale": {"domain": [1, 3], "range": [8, 40], "nice": false, "zero": false}, "axis": null}}
        },
        {
          "data": {"name": "tables"},
          "transform": [{"filter": "datum.table == 3 && datum.row == 1 && (datum.col == 0 || datum.col == 2)"}],
          "mark": {"type": "text", "align": "left", "baseline": "middle", "fontSize": 9.4, "fontWeight": "bold", "color": "#222"},
          "encoding": {
            "x": {"field": "col", "type": "quantitative", "scale": {"domain": [0, 1, 2, 3], "range": [17, 334, 352, 622], "nice": false, "zero": false}, "axis": null},
            "y": {"field": "row", "type": "quantitative", "scale": {"domain": [1, 3], "range": [8, 40], "nice": false, "zero": false}, "axis": null},
            "text": {"field": "text"}
          }
        },
        {
          "data": {"name": "tables"},
          "transform": [{"filter": "datum.table == 3 && datum.row == 1 && (datum.col == 1 || datum.col == 3)"}],
          "mark": {"type": "text", "align": "right", "baseline": "middle", "fontSize": 9.4, "fontWeight": "bold", "color": "#222"},
          "encoding": {
            "x": {"field": "col", "type": "quantitative", "scale": {"domain": [0, 1, 2, 3], "range": [17, 334, 352, 622], "nice": false, "zero": false}, "axis": null},
            "y": {"field": "row", "type": "quantitative", "scale": {"domain": [1, 3], "range": [8, 40], "nice": false, "zero": false}, "axis": null},
            "text": {"field": "text"}
          }
        },
        {
          "data": {"name": "tables"},
          "transform": [{"filter": "datum.table == 3 && datum.row > 1 && (datum.col == 0 || datum.col == 2)"}],
          "mark": {"type": "text", "align": "left", "baseline": "middle", "fontSize": 9.4, "color": "#333"},
          "encoding": {
            "x": {"field": "col", "type": "quantitative", "scale": {"domain": [0, 1, 2, 3], "range": [17, 334, 352, 622], "nice": false, "zero": false}, "axis": null},
            "y": {"field": "row", "type": "quantitative", "scale": {"domain": [1, 3], "range": [8, 40], "nice": false, "zero": false}, "axis": null},
            "text": {"field": "text"}
          }
        },
        {
          "data": {"name": "tables"},
          "transform": [{"filter": "datum.table == 3 && datum.row > 1 && (datum.col == 1 || datum.col == 3)"}],
          "mark": {"type": "text", "align": "right", "baseline": "middle", "fontSize": 9.4, "color": "#333"},
          "encoding": {
            "x": {"field": "col", "type": "quantitative", "scale": {"domain": [0, 1, 2, 3], "range": [17, 334, 352, 622], "nice": false, "zero": false}, "axis": null},
            "y": {"field": "row", "type": "quantitative", "scale": {"domain": [1, 3], "range": [8, 40], "nice": false, "zero": false}, "axis": null},
            "text": {"field": "text"}
          }
        }
      ]
    },
    {
      "width": 679, "height": 154,
      "view": {"fill": "white", "stroke": null},
      "title": {"text": "Usage hours"},
      "data": {"name": "days"},
      "encoding": {
        "x": {"field": "date", "type": "temporal", "title": null,
          "scale": {"type": "utc", "domain": [{"year": 2023, "month": 4, "date": 23, "utc": true}, {"year": 2024, "month": 4, "date": 23, "utc": true}], "range": [61, 649], "nice": false},
          "axis": {"values": [{"year": 2023, "month": 4, "date": 25, "utc": true}, {"year": 2023, "month": 5, "date": 25, "utc": true}, {"year": 2023, "month": 6, "date": 24, "utc": true}, {"year": 2023, "month": 7, "date": 24, "utc": true}, {"year": 2023, "month": 8, "date": 23, "utc": true}, {"year": 2023, "month": 9, "date": 22, "utc": true}, {"year": 2023, "month": 10, "date": 22, "utc": true}, {"year": 2023, "month": 11, "date": 21, "utc": true}, {"year": 2023, "month": 12, "date": 21, "utc": true}, {"year": 2024, "month": 1, "date": 20, "utc": true}, {"year": 2024, "month": 2, "date": 19, "utc": true}, {"year": 2024, "month": 3, "date": 20, "utc": true}, {"year": 2024, "month": 4, "date": 19, "utc": true}],
            "labelExpr": "[utcFormat(datum.value, '%b %-d'), utcFormat(datum.value, '%Y')]", "offset": -31, "ticks": false, "grid": false, "labelPadding": 4, "labelLineHeight": 12, "labelFlush": false, "labelOverlap": false}}
      },
      "layer": [
        {
          "transform": [{"filter": "datum.hours > 0"}],
          "mark": {"type": "bar", "width": 1.7},
          "encoding": {
            "y": {"field": "hours", "type": "quantitative", "title": null,
              "scale": {"domain": [0, 12], "range": [123, 46], "nice": false},
              "axis": {"values": [0, 2, 4, 6, 8, 10, 12], "offset": -61, "tickSize": 6, "labelPadding": 2, "labelOverlap": false, "grid": true, "gridColor": "#ebebeb", "gridWidth": 1.5, "gridOpacity": {"condition": {"test": "datum.value == 0 || datum.value == 4 || datum.value == 12", "value": 0}, "value": 1}}},
            "color": {"field": "status", "type": "nominal", "title": null, "scale": {"domain": ["≥ 4 hours", "< 4 hours", "No usage", "No data"], "range": ["#97c48b", "#de3338", "#111111", "#111111"]}}
          }
        },
        {
          "data": {"values": [{}]},
          "mark": {"type": "rule", "color": "#777", "strokeDash": [3, 2], "strokeWidth": 1},
          "encoding": {
            "x": {"datum": {"year": 2023, "month": 4, "date": 23, "utc": true}, "type": "temporal"},
            "x2": {"datum": {"year": 2024, "month": 4, "date": 23, "utc": true}},
            "y": {"datum": 4, "type": "quantitative", "axis": {"values": [0, 2, 4, 6, 8, 10, 12], "offset": -61, "tickSize": 6, "labelPadding": 2, "labelOverlap": false, "grid": true, "gridColor": "#ebebeb", "gridWidth": 1.5, "gridOpacity": {"condition": {"test": "datum.value == 0 || datum.value == 4 || datum.value == 12", "value": 0}, "value": 1}}}
          }
        },
        {
          "transform": [{"filter": "datum.status == 'No usage' || datum.status == 'No data'"}],
          "mark": {"type": "point", "filled": true, "size": 70, "opacity": 1},
          "encoding": {
            "y": {"datum": 0, "type": "quantitative", "axis": {"values": [0, 2, 4, 6, 8, 10, 12], "offset": -61, "tickSize": 6, "labelPadding": 2, "labelOverlap": false, "grid": true, "gridColor": "#ebebeb", "gridWidth": 1.5, "gridOpacity": {"condition": {"test": "datum.value == 0 || datum.value == 4 || datum.value == 12", "value": 0}, "value": 1}}},
            "color": {"field": "status", "type": "nominal", "title": null, "scale": {"domain": ["≥ 4 hours", "< 4 hours", "No usage", "No data"], "range": ["#97c48b", "#de3338", "#111111", "#111111"]}},
            "shape": {"field": "status", "type": "nominal", "title": null, "scale": {"domain": ["≥ 4 hours", "< 4 hours", "No usage", "No data"], "range": ["square", "square", "M -0.5 0 A 0.5 0.5 0 1 0 0.5 0 A 0.5 0.5 0 1 0 -0.5 0 Z", "M -0.6 -0.35 L -0.35 -0.6 L 0 -0.25 L 0.35 -0.6 L 0.6 -0.35 L 0.25 0 L 0.6 0.35 L 0.35 0.6 L 0 0.25 L -0.35 0.6 L -0.6 0.35 L -0.25 0 Z"]}}
          }
        }
      ]
    },
    {
      "width": 708, "height": 94,
      "view": {"fill": "#f3f3f3", "stroke": null},
      "layer": [
        {
          "data": {"values": [{}]},
          "mark": {"type": "rule", "color": "#9a9a9a", "strokeWidth": 1},
          "encoding": {"y": {"datum": 0, "type": "quantitative", "scale": {"domain": [0, 1, 3], "range": [29, 50, 80], "nice": false, "zero": false}, "axis": null}}
        },
        {
          "data": {"name": "footer"},
          "mark": {"type": "text", "align": "left", "baseline": "middle", "fontSize": 9.5, "color": "#333"},
          "encoding": {
            "x": {"datum": 0, "type": "quantitative", "scale": {"domain": [0, 1], "range": [17, 708]}, "axis": null},
            "y": {"field": "line", "type": "quantitative", "scale": {"domain": [0, 1, 3], "range": [29, 50, 80], "nice": false, "zero": false}, "axis": null},
            "text": {"field": "text"}
          }
        }
      ]
    }
  ]
}
